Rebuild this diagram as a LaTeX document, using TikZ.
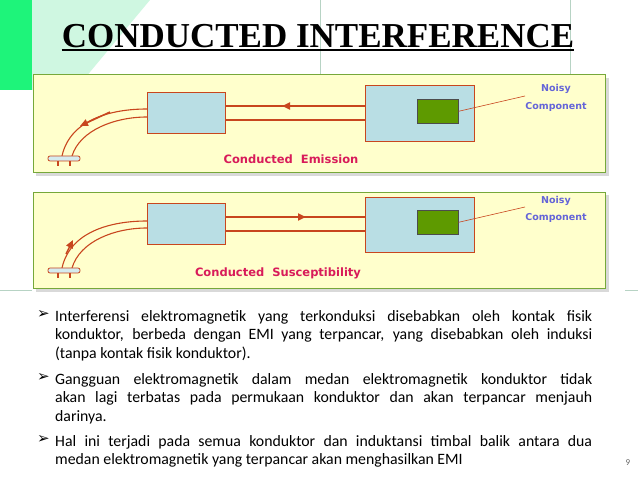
\documentclass[tikz,border=0pt]{standalone}
\usepackage{fontspec}
\setmainfont{Carlito}
\newfontfamily\titlefont{Liberation Serif}
\newfontfamily\dejavu{DejaVu Sans}
\newfontfamily\vera{DejaVu Sans}
\usetikzlibrary{arrows.meta,calc}
\definecolor{panelfill}{HTML}{FFFFCC}
\definecolor{panelline}{HTML}{76A83A}
\definecolor{wire}{HTML}{C8461E}
\definecolor{boxfill}{HTML}{B9DEE4}
\definecolor{chip}{HTML}{5E9A00}
\definecolor{lblred}{HTML}{D81B5A}
\definecolor{lblblue}{HTML}{6464D8}
\definecolor{brightgreen}{HTML}{1EF47A}
\definecolor{palegreen}{HTML}{CFF7E1}
\tikzset{
 panel/.style={draw=panelline,line width=1.2pt,fill=panelfill},
 unitbox/.style={draw=wire,line width=1.3pt,fill=boxfill},
 chipbox/.style={draw=black!70,line width=0.6pt,fill=chip},
 wireline/.style={draw=wire,line width=1.1pt},
 lbl/.style={text=lblred,font=\vera\bfseries\fontsize{11.5}{13}\selectfont},
 noisy/.style={text=lblblue,font=\vera\bfseries\fontsize{9.5}{11}\selectfont},
 bullettext/.style={anchor=north west,text width=537pt,align=justify,inner sep=0pt,font=\fontsize{15.8}{18.6}\selectfont},
 bulletsym/.style={font=\dejavu\bfseries\fontsize{15}{16}\selectfont,anchor=north west,inner sep=0pt},
}
\begin{document}
\begin{tikzpicture}[x=1pt,y=-1pt]
\useasboundingbox (0,0) rectangle (638,478);
\fill[white] (0,0) rectangle (638,478);
\fill[palegreen] (32,0) -- (150,0) -- (75,90) -- (32,90) -- cycle;
\fill[brightgreen] (0,0) rectangle (32,90);
\draw[palegreen!70!gray,line width=0.4pt] (320,0) -- (320,75) (570,0) -- (570,75);
\draw[palegreen!70!gray,line width=0.4pt] (625,290) -- (638,290) (0,290) -- (32,290);
% title
\node[font=\titlefont\bfseries\fontsize{35}{36}\selectfont,inner sep=0pt] (title) at (318,36) {CONDUCTED INTERFERENCE};
\draw[line width=1.3pt] ($(title.south west)+(0,2)$) -- ($(title.south east)+(0,2)$);
% panels
\fill[black!15] (36,78) rectangle (609,176);
\fill[black!15] (36,195) rectangle (609,292);
\node[panel,minimum width=572pt,minimum height=98pt,anchor=north west] (p1) at (33,74) {};
\node[panel,minimum width=572pt,minimum height=96pt,anchor=north west] (p2) at (33,192) {};
% panel 1
\node[unitbox,minimum width=78pt,minimum height=41pt,anchor=north west] (a1) at (147,92) {};
\node[unitbox,minimum width=109pt,minimum height=56pt,anchor=north west] (b1) at (365,85) {};
\node[chipbox,minimum width=41pt,minimum height=24pt,anchor=north west] (c1) at (417,99) {};
\draw[wireline] (a1.east|-0,106) -- (b1.west|-0,106);
\draw[wireline] (a1.east|-0,120) -- (b1.west|-0,120);
\draw[wire,line width=2pt,-{Triangle[length=8pt,width=7pt]}] (306,106) -- (282,106);
\draw[wireline] (a1.west|-0,109) .. controls (110,109) and (70,120) .. (62,156);
\draw[wireline] (a1.west|-0,117) .. controls (115,117) and (80,130) .. (72,156);
\draw[wire,line width=1.5pt,-{Triangle[length=8pt,width=7pt]}] (110,112) -- (80,126);
\draw[wire,line width=0.8pt,fill=boxfill!60,rounded corners=2pt] (48,156) rectangle (80,161);
\draw[wireline] (58,161) -- (58,166) (70,161) -- (70,166);
\node[lbl] (l1) at (291,159) {Conducted\ \ Emission};
\node[noisy] (n1) at (556,89) {Noisy};
\node[noisy] (m1) at (556,107) {Component};
\draw[wire,line width=0.6pt] (c1.east) -- (525,96);
% panel 2
\node[unitbox,minimum width=78pt,minimum height=41pt,anchor=north west] (a2) at (147,203) {};
\node[unitbox,minimum width=109pt,minimum height=55pt,anchor=north west] (b2) at (365,197) {};
\node[chipbox,minimum width=41pt,minimum height=24pt,anchor=north west] (c2) at (417,210) {};
\draw[wireline] (a2.east|-0,217) -- (b2.west|-0,217);
\draw[wireline] (a2.east|-0,231) -- (b2.west|-0,231);
\draw[wire,line width=2pt,-{Triangle[length=8pt,width=7pt]}] (282,217) -- (306,217);
\draw[wireline] (a2.west|-0,221) .. controls (110,221) and (70,232) .. (62,268);
\draw[wireline] (a2.west|-0,228) .. controls (115,228) and (80,241) .. (72,268);
\draw[wire,line width=1.5pt,-{Triangle[length=8pt,width=7pt]}] (66,254) -- (73,240);
\draw[wire,line width=0.8pt,fill=boxfill!60,rounded corners=2pt] (48,268) rectangle (80,273);
\draw[wireline] (58,273) -- (58,278) (70,273) -- (70,278);
\node[lbl] (l2) at (278,273) {Conducted\ \ Susceptibility};
\node[noisy] (n2) at (556,201) {Noisy};
\node[noisy] (m2) at (556,218) {Component};
\draw[wire,line width=0.6pt] (c2.east) -- (525,207);
% bullets
\node[bulletsym] (s1) at (37,310) {➢};
\node[bullettext] (t1) at (55,310) {Interferensi elektromagnetik yang terkonduksi disebabkan oleh kontak fisik\linebreak konduktor, berbeda dengan EMI yang terpancar, yang disebabkan oleh induksi\linebreak (tanpa kontak fisik konduktor).};
\node[bulletsym] (s2) at (37,373) {➢};
\node[bullettext] (t2) at (55,373) {Gangguan elektromagnetik dalam medan elektromagnetik konduktor tidak\linebreak akan lagi terbatas pada permukaan konduktor dan akan terpancar menjauh\linebreak darinya.};
\node[bulletsym] (s3) at (37,435) {➢};
\node[bullettext] (t3) at (55,435) {Hal ini terjadi pada semua konduktor dan induktansi timbal balik antara dua\linebreak medan elektromagnetik yang terpancar akan menghasilkan EMI};
\node[font=\fontsize{9}{10}\selectfont,text=black!60] (pg) at (628,463) {9};
\end{tikzpicture}
\end{document}
